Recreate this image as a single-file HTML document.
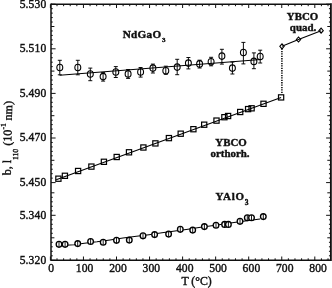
<!DOCTYPE html>
<html><head><meta charset="utf-8"><title>Lattice parameters vs temperature</title>
<style>html,body{margin:0;padding:0;background:#fff}body{width:332px;height:288px;overflow:hidden}svg{display:block}text{font-family:"Liberation Serif","DejaVu Serif",serif;fill:#111;stroke:#111;stroke-width:0.4px}.b{font-weight:bold}</style></head><body>
<svg width="332" height="288" viewBox="0 0 332 288">
<rect width="332" height="288" fill="#fff"/>
<g stroke="#111" fill="none">
<line x1="51.0" y1="3.55" x2="51.0" y2="260.95" stroke-width="1.5"/>
<line x1="51.0" y1="4.3" x2="332" y2="4.3" stroke-width="1.6"/>
<line x1="51.0" y1="260.2" x2="332" y2="260.2" stroke-width="1.6"/>
<rect x="331" y="3.55" width="1" height="257.4" fill="#666" stroke="none"/>
<line x1="330.7" y1="3.55" x2="330.7" y2="260.95" stroke-width="1.5"/>
</g>
<g stroke="#111" stroke-width="1.0" fill="none">
<line x1="50.40" y1="260.2" x2="50.40" y2="256.50"/>
<line x1="50.40" y1="4.3" x2="50.40" y2="8.00"/>
<line x1="57.01" y1="260.2" x2="57.01" y2="258.30"/>
<line x1="57.01" y1="4.3" x2="57.01" y2="6.20"/>
<line x1="63.62" y1="260.2" x2="63.62" y2="258.30"/>
<line x1="63.62" y1="4.3" x2="63.62" y2="6.20"/>
<line x1="70.23" y1="260.2" x2="70.23" y2="258.30"/>
<line x1="70.23" y1="4.3" x2="70.23" y2="6.20"/>
<line x1="76.84" y1="260.2" x2="76.84" y2="258.30"/>
<line x1="76.84" y1="4.3" x2="76.84" y2="6.20"/>
<line x1="83.45" y1="260.2" x2="83.45" y2="256.50"/>
<line x1="83.45" y1="4.3" x2="83.45" y2="8.00"/>
<line x1="90.06" y1="260.2" x2="90.06" y2="258.30"/>
<line x1="90.06" y1="4.3" x2="90.06" y2="6.20"/>
<line x1="96.67" y1="260.2" x2="96.67" y2="258.30"/>
<line x1="96.67" y1="4.3" x2="96.67" y2="6.20"/>
<line x1="103.28" y1="260.2" x2="103.28" y2="258.30"/>
<line x1="103.28" y1="4.3" x2="103.28" y2="6.20"/>
<line x1="109.89" y1="260.2" x2="109.89" y2="258.30"/>
<line x1="109.89" y1="4.3" x2="109.89" y2="6.20"/>
<line x1="116.50" y1="260.2" x2="116.50" y2="256.50"/>
<line x1="116.50" y1="4.3" x2="116.50" y2="8.00"/>
<line x1="123.11" y1="260.2" x2="123.11" y2="258.30"/>
<line x1="123.11" y1="4.3" x2="123.11" y2="6.20"/>
<line x1="129.72" y1="260.2" x2="129.72" y2="258.30"/>
<line x1="129.72" y1="4.3" x2="129.72" y2="6.20"/>
<line x1="136.33" y1="260.2" x2="136.33" y2="258.30"/>
<line x1="136.33" y1="4.3" x2="136.33" y2="6.20"/>
<line x1="142.94" y1="260.2" x2="142.94" y2="258.30"/>
<line x1="142.94" y1="4.3" x2="142.94" y2="6.20"/>
<line x1="149.55" y1="260.2" x2="149.55" y2="256.50"/>
<line x1="149.55" y1="4.3" x2="149.55" y2="8.00"/>
<line x1="156.16" y1="260.2" x2="156.16" y2="258.30"/>
<line x1="156.16" y1="4.3" x2="156.16" y2="6.20"/>
<line x1="162.77" y1="260.2" x2="162.77" y2="258.30"/>
<line x1="162.77" y1="4.3" x2="162.77" y2="6.20"/>
<line x1="169.38" y1="260.2" x2="169.38" y2="258.30"/>
<line x1="169.38" y1="4.3" x2="169.38" y2="6.20"/>
<line x1="175.99" y1="260.2" x2="175.99" y2="258.30"/>
<line x1="175.99" y1="4.3" x2="175.99" y2="6.20"/>
<line x1="182.60" y1="260.2" x2="182.60" y2="256.50"/>
<line x1="182.60" y1="4.3" x2="182.60" y2="8.00"/>
<line x1="189.21" y1="260.2" x2="189.21" y2="258.30"/>
<line x1="189.21" y1="4.3" x2="189.21" y2="6.20"/>
<line x1="195.82" y1="260.2" x2="195.82" y2="258.30"/>
<line x1="195.82" y1="4.3" x2="195.82" y2="6.20"/>
<line x1="202.43" y1="260.2" x2="202.43" y2="258.30"/>
<line x1="202.43" y1="4.3" x2="202.43" y2="6.20"/>
<line x1="209.04" y1="260.2" x2="209.04" y2="258.30"/>
<line x1="209.04" y1="4.3" x2="209.04" y2="6.20"/>
<line x1="215.65" y1="260.2" x2="215.65" y2="256.50"/>
<line x1="215.65" y1="4.3" x2="215.65" y2="8.00"/>
<line x1="222.26" y1="260.2" x2="222.26" y2="258.30"/>
<line x1="222.26" y1="4.3" x2="222.26" y2="6.20"/>
<line x1="228.87" y1="260.2" x2="228.87" y2="258.30"/>
<line x1="228.87" y1="4.3" x2="228.87" y2="6.20"/>
<line x1="235.48" y1="260.2" x2="235.48" y2="258.30"/>
<line x1="235.48" y1="4.3" x2="235.48" y2="6.20"/>
<line x1="242.09" y1="260.2" x2="242.09" y2="258.30"/>
<line x1="242.09" y1="4.3" x2="242.09" y2="6.20"/>
<line x1="248.70" y1="260.2" x2="248.70" y2="256.50"/>
<line x1="248.70" y1="4.3" x2="248.70" y2="8.00"/>
<line x1="255.31" y1="260.2" x2="255.31" y2="258.30"/>
<line x1="255.31" y1="4.3" x2="255.31" y2="6.20"/>
<line x1="261.92" y1="260.2" x2="261.92" y2="258.30"/>
<line x1="261.92" y1="4.3" x2="261.92" y2="6.20"/>
<line x1="268.53" y1="260.2" x2="268.53" y2="258.30"/>
<line x1="268.53" y1="4.3" x2="268.53" y2="6.20"/>
<line x1="275.14" y1="260.2" x2="275.14" y2="258.30"/>
<line x1="275.14" y1="4.3" x2="275.14" y2="6.20"/>
<line x1="281.75" y1="260.2" x2="281.75" y2="256.50"/>
<line x1="281.75" y1="4.3" x2="281.75" y2="8.00"/>
<line x1="288.36" y1="260.2" x2="288.36" y2="258.30"/>
<line x1="288.36" y1="4.3" x2="288.36" y2="6.20"/>
<line x1="294.97" y1="260.2" x2="294.97" y2="258.30"/>
<line x1="294.97" y1="4.3" x2="294.97" y2="6.20"/>
<line x1="301.58" y1="260.2" x2="301.58" y2="258.30"/>
<line x1="301.58" y1="4.3" x2="301.58" y2="6.20"/>
<line x1="308.19" y1="260.2" x2="308.19" y2="258.30"/>
<line x1="308.19" y1="4.3" x2="308.19" y2="6.20"/>
<line x1="314.80" y1="260.2" x2="314.80" y2="256.50"/>
<line x1="314.80" y1="4.3" x2="314.80" y2="8.00"/>
<line x1="321.41" y1="260.2" x2="321.41" y2="258.30"/>
<line x1="321.41" y1="4.3" x2="321.41" y2="6.20"/>
<line x1="328.02" y1="260.2" x2="328.02" y2="258.30"/>
<line x1="328.02" y1="4.3" x2="328.02" y2="6.20"/>
<line x1="51.0" y1="4.20" x2="55.60" y2="4.20"/>
<line x1="330.7" y1="4.20" x2="326.10" y2="4.20"/>
<line x1="51.0" y1="8.66" x2="52.75" y2="8.66"/>
<line x1="330.7" y1="8.66" x2="328.95" y2="8.66"/>
<line x1="51.0" y1="13.12" x2="52.75" y2="13.12"/>
<line x1="330.7" y1="13.12" x2="328.95" y2="13.12"/>
<line x1="51.0" y1="17.58" x2="52.75" y2="17.58"/>
<line x1="330.7" y1="17.58" x2="328.95" y2="17.58"/>
<line x1="51.0" y1="22.04" x2="52.75" y2="22.04"/>
<line x1="330.7" y1="22.04" x2="328.95" y2="22.04"/>
<line x1="51.0" y1="26.50" x2="54.40" y2="26.50"/>
<line x1="330.7" y1="26.50" x2="327.30" y2="26.50"/>
<line x1="51.0" y1="30.96" x2="52.75" y2="30.96"/>
<line x1="330.7" y1="30.96" x2="328.95" y2="30.96"/>
<line x1="51.0" y1="35.42" x2="52.75" y2="35.42"/>
<line x1="330.7" y1="35.42" x2="328.95" y2="35.42"/>
<line x1="51.0" y1="39.88" x2="52.75" y2="39.88"/>
<line x1="330.7" y1="39.88" x2="328.95" y2="39.88"/>
<line x1="51.0" y1="44.34" x2="52.75" y2="44.34"/>
<line x1="330.7" y1="44.34" x2="328.95" y2="44.34"/>
<line x1="51.0" y1="48.80" x2="55.60" y2="48.80"/>
<line x1="330.7" y1="48.80" x2="326.10" y2="48.80"/>
<line x1="51.0" y1="53.26" x2="52.75" y2="53.26"/>
<line x1="330.7" y1="53.26" x2="328.95" y2="53.26"/>
<line x1="51.0" y1="57.72" x2="52.75" y2="57.72"/>
<line x1="330.7" y1="57.72" x2="328.95" y2="57.72"/>
<line x1="51.0" y1="62.18" x2="52.75" y2="62.18"/>
<line x1="330.7" y1="62.18" x2="328.95" y2="62.18"/>
<line x1="51.0" y1="66.64" x2="52.75" y2="66.64"/>
<line x1="330.7" y1="66.64" x2="328.95" y2="66.64"/>
<line x1="51.0" y1="71.10" x2="54.40" y2="71.10"/>
<line x1="330.7" y1="71.10" x2="327.30" y2="71.10"/>
<line x1="51.0" y1="75.56" x2="52.75" y2="75.56"/>
<line x1="330.7" y1="75.56" x2="328.95" y2="75.56"/>
<line x1="51.0" y1="80.02" x2="52.75" y2="80.02"/>
<line x1="330.7" y1="80.02" x2="328.95" y2="80.02"/>
<line x1="51.0" y1="84.48" x2="52.75" y2="84.48"/>
<line x1="330.7" y1="84.48" x2="328.95" y2="84.48"/>
<line x1="51.0" y1="88.94" x2="52.75" y2="88.94"/>
<line x1="330.7" y1="88.94" x2="328.95" y2="88.94"/>
<line x1="51.0" y1="93.40" x2="55.60" y2="93.40"/>
<line x1="330.7" y1="93.40" x2="326.10" y2="93.40"/>
<line x1="51.0" y1="97.86" x2="52.75" y2="97.86"/>
<line x1="330.7" y1="97.86" x2="328.95" y2="97.86"/>
<line x1="51.0" y1="102.32" x2="52.75" y2="102.32"/>
<line x1="330.7" y1="102.32" x2="328.95" y2="102.32"/>
<line x1="51.0" y1="106.78" x2="52.75" y2="106.78"/>
<line x1="330.7" y1="106.78" x2="328.95" y2="106.78"/>
<line x1="51.0" y1="111.24" x2="52.75" y2="111.24"/>
<line x1="330.7" y1="111.24" x2="328.95" y2="111.24"/>
<line x1="51.0" y1="115.70" x2="54.40" y2="115.70"/>
<line x1="330.7" y1="115.70" x2="327.30" y2="115.70"/>
<line x1="51.0" y1="120.16" x2="52.75" y2="120.16"/>
<line x1="330.7" y1="120.16" x2="328.95" y2="120.16"/>
<line x1="51.0" y1="124.62" x2="52.75" y2="124.62"/>
<line x1="330.7" y1="124.62" x2="328.95" y2="124.62"/>
<line x1="51.0" y1="129.08" x2="52.75" y2="129.08"/>
<line x1="330.7" y1="129.08" x2="328.95" y2="129.08"/>
<line x1="51.0" y1="133.54" x2="52.75" y2="133.54"/>
<line x1="330.7" y1="133.54" x2="328.95" y2="133.54"/>
<line x1="51.0" y1="138.00" x2="55.60" y2="138.00"/>
<line x1="330.7" y1="138.00" x2="326.10" y2="138.00"/>
<line x1="51.0" y1="142.46" x2="52.75" y2="142.46"/>
<line x1="330.7" y1="142.46" x2="328.95" y2="142.46"/>
<line x1="51.0" y1="146.92" x2="52.75" y2="146.92"/>
<line x1="330.7" y1="146.92" x2="328.95" y2="146.92"/>
<line x1="51.0" y1="151.38" x2="52.75" y2="151.38"/>
<line x1="330.7" y1="151.38" x2="328.95" y2="151.38"/>
<line x1="51.0" y1="155.84" x2="52.75" y2="155.84"/>
<line x1="330.7" y1="155.84" x2="328.95" y2="155.84"/>
<line x1="51.0" y1="160.30" x2="54.40" y2="160.30"/>
<line x1="330.7" y1="160.30" x2="327.30" y2="160.30"/>
<line x1="51.0" y1="164.76" x2="52.75" y2="164.76"/>
<line x1="330.7" y1="164.76" x2="328.95" y2="164.76"/>
<line x1="51.0" y1="169.22" x2="52.75" y2="169.22"/>
<line x1="330.7" y1="169.22" x2="328.95" y2="169.22"/>
<line x1="51.0" y1="173.68" x2="52.75" y2="173.68"/>
<line x1="330.7" y1="173.68" x2="328.95" y2="173.68"/>
<line x1="51.0" y1="178.14" x2="52.75" y2="178.14"/>
<line x1="330.7" y1="178.14" x2="328.95" y2="178.14"/>
<line x1="51.0" y1="182.60" x2="55.60" y2="182.60"/>
<line x1="330.7" y1="182.60" x2="326.10" y2="182.60"/>
<line x1="51.0" y1="260.30" x2="55.60" y2="260.30"/>
<line x1="330.7" y1="260.30" x2="326.10" y2="260.30"/>
<line x1="51.0" y1="255.80" x2="52.75" y2="255.80"/>
<line x1="330.7" y1="255.80" x2="328.95" y2="255.80"/>
<line x1="51.0" y1="251.30" x2="52.75" y2="251.30"/>
<line x1="330.7" y1="251.30" x2="328.95" y2="251.30"/>
<line x1="51.0" y1="246.80" x2="52.75" y2="246.80"/>
<line x1="330.7" y1="246.80" x2="328.95" y2="246.80"/>
<line x1="51.0" y1="242.30" x2="52.75" y2="242.30"/>
<line x1="330.7" y1="242.30" x2="328.95" y2="242.30"/>
<line x1="51.0" y1="237.80" x2="54.40" y2="237.80"/>
<line x1="330.7" y1="237.80" x2="327.30" y2="237.80"/>
<line x1="51.0" y1="233.30" x2="52.75" y2="233.30"/>
<line x1="330.7" y1="233.30" x2="328.95" y2="233.30"/>
<line x1="51.0" y1="228.80" x2="52.75" y2="228.80"/>
<line x1="330.7" y1="228.80" x2="328.95" y2="228.80"/>
<line x1="51.0" y1="224.30" x2="52.75" y2="224.30"/>
<line x1="330.7" y1="224.30" x2="328.95" y2="224.30"/>
<line x1="51.0" y1="219.80" x2="52.75" y2="219.80"/>
<line x1="330.7" y1="219.80" x2="328.95" y2="219.80"/>
<line x1="51.0" y1="215.30" x2="55.60" y2="215.30"/>
<line x1="330.7" y1="215.30" x2="326.10" y2="215.30"/>
<line x1="51.0" y1="210.80" x2="52.75" y2="210.80"/>
<line x1="330.7" y1="210.80" x2="328.95" y2="210.80"/>
<line x1="51.0" y1="206.30" x2="52.75" y2="206.30"/>
<line x1="330.7" y1="206.30" x2="328.95" y2="206.30"/>
<line x1="51.0" y1="201.80" x2="52.75" y2="201.80"/>
<line x1="330.7" y1="201.80" x2="328.95" y2="201.80"/>
<line x1="51.0" y1="197.30" x2="52.75" y2="197.30"/>
<line x1="330.7" y1="197.30" x2="328.95" y2="197.30"/>
<line x1="51.0" y1="192.80" x2="54.40" y2="192.80"/>
<line x1="330.7" y1="192.80" x2="327.30" y2="192.80"/>
</g>
<g font-size="11.6" text-anchor="end" letter-spacing="0.1">
<text x="46.3" y="7.60">5.530</text>
<text x="46.3" y="52.20">5.510</text>
<text x="46.3" y="96.80">5.490</text>
<text x="46.3" y="141.40">5.470</text>
<text x="46.3" y="186.00">5.450</text>
<text x="46.3" y="218.70">5.340</text>
<text x="46.3" y="263.70">5.320</text>
</g>
<g font-size="11.6" text-anchor="middle" letter-spacing="0.1">
<text x="51.30" y="271.6">0</text>
<text x="84.66" y="271.6">100</text>
<text x="118.02" y="271.6">200</text>
<text x="151.38" y="271.6">300</text>
<text x="184.74" y="271.6">400</text>
<text x="218.10" y="271.6">500</text>
<text x="251.46" y="271.6">600</text>
<text x="284.82" y="271.6">700</text>
<text x="318.18" y="271.6">800</text>
</g>
<text x="196.6" y="285.2" font-size="11.8" text-anchor="middle">T (°C)</text>
<text transform="translate(12.2,101.1) rotate(-88.8)" font-size="12" text-anchor="end">b, l<tspan font-size="7.7" dy="7">110</tspan><tspan dy="-7"> (10</tspan><tspan font-size="7.5" dy="-6">-1</tspan><tspan dy="6"> nm)</tspan></text>
<text class="b" x="122.7" y="37.9" font-size="11.2" letter-spacing="0.3">NdGaO<tspan font-size="7" dy="4.4" dx="0.4">3</tspan></text>
<text class="b" x="302.6" y="20.3" font-size="10.9" text-anchor="middle">YBCO</text>
<text class="b" x="303" y="30.8" font-size="10.9" text-anchor="middle">quad.</text>
<text class="b" x="231" y="145.8" font-size="10.9" text-anchor="middle">YBCO</text>
<text class="b" x="230" y="157" font-size="10.9" text-anchor="middle">orthorh.</text>
<text class="b" x="215.4" y="200.2" font-size="11" letter-spacing="0.7">YAlO<tspan font-size="7.5" dy="4.3">3</tspan></text>
<g stroke="#000" stroke-width="1.25" fill="none">
<line x1="59.6" y1="75.3" x2="260.9" y2="59.5" stroke-width="1.05"/>
<path d="M59.8 60.3V74.8M57.8 60.3h4M57.8 74.8h4" stroke-width="0.95"/>
<ellipse cx="59.8" cy="67.5" rx="2.95" ry="3.25" stroke-width="1.1"/>
<path d="M77.8 60.3V74.8M75.8 60.3h4M75.8 74.8h4" stroke-width="0.95"/>
<ellipse cx="77.8" cy="67.5" rx="2.95" ry="3.25" stroke-width="1.1"/>
<path d="M90.3 68.1V80.7M88.3 68.1h4M88.3 80.7h4" stroke-width="0.95"/>
<ellipse cx="90.3" cy="74.0" rx="2.95" ry="3.25" stroke-width="1.1"/>
<path d="M103.1 72.6V81.1M101.1 72.6h4M101.1 81.1h4" stroke-width="0.95"/>
<ellipse cx="103.1" cy="76.6" rx="2.95" ry="3.25" stroke-width="1.1"/>
<path d="M115.8 66.6V77.5M113.8 66.6h4M113.8 77.5h4" stroke-width="0.95"/>
<ellipse cx="115.8" cy="72.0" rx="2.95" ry="3.25" stroke-width="1.1"/>
<path d="M128.1 69.5V78.4M126.1 69.5h4M126.1 78.4h4" stroke-width="0.95"/>
<ellipse cx="128.1" cy="73.9" rx="2.95" ry="3.25" stroke-width="1.1"/>
<path d="M140.6 67.5V77.1M138.6 67.5h4M138.6 77.1h4" stroke-width="0.95"/>
<ellipse cx="140.6" cy="72.0" rx="2.95" ry="3.25" stroke-width="1.1"/>
<path d="M152.9 64.1V73.0M150.9 64.1h4M150.9 73.0h4" stroke-width="0.95"/>
<ellipse cx="152.9" cy="68.1" rx="2.95" ry="3.25" stroke-width="1.1"/>
<path d="M165.8 66.2V74.3M163.8 66.2h4M163.8 74.3h4" stroke-width="0.95"/>
<ellipse cx="165.8" cy="70.7" rx="2.95" ry="3.25" stroke-width="1.1"/>
<path d="M177.2 59.3V74.7M175.2 59.3h4M175.2 74.7h4" stroke-width="0.95"/>
<ellipse cx="177.2" cy="67.1" rx="2.95" ry="3.25" stroke-width="1.1"/>
<path d="M188.4 57.5V68.9M186.4 57.5h4M186.4 68.9h4" stroke-width="0.95"/>
<ellipse cx="188.4" cy="63.1" rx="2.95" ry="3.25" stroke-width="1.1"/>
<path d="M199.6 60.2V68.0M197.6 60.2h4M197.6 68.0h4" stroke-width="0.95"/>
<ellipse cx="199.6" cy="63.9" rx="2.95" ry="3.25" stroke-width="1.1"/>
<path d="M211.1 57.3V65.8M209.1 57.3h4M209.1 65.8h4" stroke-width="0.95"/>
<ellipse cx="211.1" cy="61.8" rx="2.95" ry="3.25" stroke-width="1.1"/>
<path d="M221.9 49.3V64.1M219.9 49.3h4M219.9 64.1h4" stroke-width="0.95"/>
<ellipse cx="221.9" cy="56.1" rx="2.95" ry="3.25" stroke-width="1.1"/>
<path d="M232.4 62.0V74.0M230.4 62.0h4M230.4 74.0h4" stroke-width="0.95"/>
<ellipse cx="232.4" cy="68.1" rx="2.95" ry="3.25" stroke-width="1.1"/>
<path d="M243.4 42.4V63.9M241.4 42.4h4M241.4 63.9h4" stroke-width="0.95"/>
<ellipse cx="243.4" cy="52.5" rx="2.95" ry="3.25" stroke-width="1.1"/>
<path d="M253.9 52.9V68.7M251.9 52.9h4M251.9 68.7h4" stroke-width="0.95"/>
<ellipse cx="253.9" cy="61.4" rx="2.95" ry="3.25" stroke-width="1.1"/>
<path d="M260.2 50.2V63.0M258.2 50.2h4M258.2 63.0h4" stroke-width="0.95"/>
<ellipse cx="260.2" cy="56.5" rx="2.95" ry="3.25" stroke-width="1.1"/>
<line x1="56.2" y1="179.8" x2="281.1" y2="97.5" stroke-width="1.05"/>
<rect x="55.80" y="176.10" width="5.2" height="5.2" stroke-width="1.2"/>
<rect x="62.30" y="173.20" width="5.2" height="5.2" stroke-width="1.2"/>
<rect x="75.50" y="168.40" width="5.2" height="5.2" stroke-width="1.2"/>
<rect x="88.80" y="164.00" width="5.2" height="5.2" stroke-width="1.2"/>
<rect x="101.30" y="159.20" width="5.2" height="5.2" stroke-width="1.2"/>
<rect x="114.10" y="154.40" width="5.2" height="5.2" stroke-width="1.2"/>
<rect x="126.40" y="149.70" width="5.2" height="5.2" stroke-width="1.2"/>
<rect x="140.80" y="144.90" width="5.2" height="5.2" stroke-width="1.2"/>
<rect x="152.80" y="140.80" width="5.2" height="5.2" stroke-width="1.2"/>
<rect x="166.30" y="135.50" width="5.2" height="5.2" stroke-width="1.2"/>
<rect x="178.10" y="131.10" width="5.2" height="5.2" stroke-width="1.2"/>
<rect x="190.80" y="126.60" width="5.2" height="5.2" stroke-width="1.2"/>
<rect x="201.60" y="122.10" width="5.2" height="5.2" stroke-width="1.2"/>
<rect x="213.90" y="118.00" width="5.2" height="5.2" stroke-width="1.2"/>
<rect x="221.80" y="114.60" width="5.2" height="5.2" stroke-width="1.2"/>
<rect x="225.50" y="113.40" width="5.2" height="5.2" stroke-width="1.2"/>
<rect x="237.60" y="109.40" width="5.2" height="5.2" stroke-width="1.2"/>
<rect x="245.50" y="106.50" width="5.2" height="5.2" stroke-width="1.2"/>
<rect x="249.00" y="105.70" width="5.2" height="5.2" stroke-width="1.2"/>
<rect x="260.90" y="101.20" width="5.2" height="5.2" stroke-width="1.2"/>
<rect x="278.50" y="94.80" width="5.2" height="5.2" stroke-width="1.2"/>
<line x1="281.9" y1="48.5" x2="281.9" y2="94" stroke-dasharray="1.3 1.1" stroke-width="1.5"/>
<polyline stroke-width="1.05" points="282.0,46.3 298.5,39.5 321.1,30.7"/>
<path d="M279.8 46.3L282.0 43.8L284.2 46.3L282.0 48.8Z" stroke-width="1.1"/>
<path d="M296.3 39.5L298.5 37.0L300.7 39.5L298.5 42.0Z" stroke-width="1.1"/>
<path d="M318.9 30.7L321.1 28.2L323.3 30.7L321.1 33.2Z" stroke-width="1.1"/>
<polyline points="57.5,245.5 66,245.2 74,244.8 84.4,243.3 97,241.8 110,239.9 123,238.1 136.4,236.3 149,234.7 162,232.8 175,230.9 188,229.2 199,227.6 210,225.9 224,224.0 234,222.6 247,220.8 260,219.1" stroke-linejoin="round" stroke-width="1.05"/>
<ellipse cx="59.0" cy="244.3" rx="2.8" ry="2.9" stroke-width="1.35" fill="#fff"/>
<path d="M59.0 241.7v5.2" stroke-width="0.9"/>
<ellipse cx="65.1" cy="244.3" rx="2.8" ry="2.9" stroke-width="1.35" fill="#fff"/>
<path d="M65.1 241.7v5.2" stroke-width="0.9"/>
<ellipse cx="77.7" cy="243.6" rx="2.8" ry="2.9" stroke-width="1.35" fill="#fff"/>
<path d="M77.7 241.0v5.2" stroke-width="0.9"/>
<ellipse cx="90.6" cy="241.5" rx="2.8" ry="2.9" stroke-width="1.35" fill="#fff"/>
<path d="M90.6 238.9v5.2" stroke-width="0.9"/>
<ellipse cx="103.2" cy="242.2" rx="2.8" ry="2.9" stroke-width="1.35" fill="#fff"/>
<path d="M103.2 239.6v5.2" stroke-width="0.9"/>
<ellipse cx="116.5" cy="240.3" rx="2.8" ry="2.9" stroke-width="1.35" fill="#fff"/>
<path d="M116.5 237.7v5.2" stroke-width="0.9"/>
<ellipse cx="129.3" cy="240.1" rx="2.8" ry="2.9" stroke-width="1.35" fill="#fff"/>
<path d="M129.3 237.5v5.2" stroke-width="0.9"/>
<ellipse cx="143.0" cy="235.8" rx="2.8" ry="2.9" stroke-width="1.35" fill="#fff"/>
<path d="M143.0 233.2v5.2" stroke-width="0.9"/>
<ellipse cx="154.6" cy="234.6" rx="2.8" ry="2.9" stroke-width="1.35" fill="#fff"/>
<path d="M154.6 232.0v5.2" stroke-width="0.9"/>
<ellipse cx="168.6" cy="234.1" rx="2.8" ry="2.9" stroke-width="1.35" fill="#fff"/>
<path d="M168.6 231.5v5.2" stroke-width="0.9"/>
<ellipse cx="180.3" cy="229.3" rx="2.8" ry="2.9" stroke-width="1.35" fill="#fff"/>
<path d="M180.3 226.7v5.2" stroke-width="0.9"/>
<ellipse cx="192.7" cy="230.1" rx="2.8" ry="2.9" stroke-width="1.35" fill="#fff"/>
<path d="M192.7 227.5v5.2" stroke-width="0.9"/>
<ellipse cx="204.4" cy="226.6" rx="2.8" ry="2.9" stroke-width="1.35" fill="#fff"/>
<path d="M204.4 224.0v5.2" stroke-width="0.9"/>
<ellipse cx="216.0" cy="225.2" rx="2.8" ry="2.9" stroke-width="1.35" fill="#fff"/>
<path d="M216.0 222.6v5.2" stroke-width="0.9"/>
<ellipse cx="224.6" cy="224.4" rx="2.8" ry="2.9" stroke-width="1.35" fill="#fff"/>
<path d="M224.6 221.8v5.2" stroke-width="0.9"/>
<ellipse cx="228.4" cy="224.4" rx="2.8" ry="2.9" stroke-width="1.35" fill="#fff"/>
<path d="M228.4 221.8v5.2" stroke-width="0.9"/>
<ellipse cx="240.0" cy="221.3" rx="2.8" ry="2.9" stroke-width="1.35" fill="#fff"/>
<path d="M240.0 218.7v5.2" stroke-width="0.9"/>
<ellipse cx="247.3" cy="217.7" rx="2.8" ry="2.9" stroke-width="1.35" fill="#fff"/>
<path d="M247.3 215.1v5.2" stroke-width="0.9"/>
<ellipse cx="251.5" cy="217.7" rx="2.8" ry="2.9" stroke-width="1.35" fill="#fff"/>
<path d="M251.5 215.1v5.2" stroke-width="0.9"/>
<ellipse cx="263.3" cy="216.6" rx="2.8" ry="2.9" stroke-width="1.35" fill="#fff"/>
<path d="M263.3 214.0v5.2" stroke-width="0.9"/>
</g>
</svg></body></html>
